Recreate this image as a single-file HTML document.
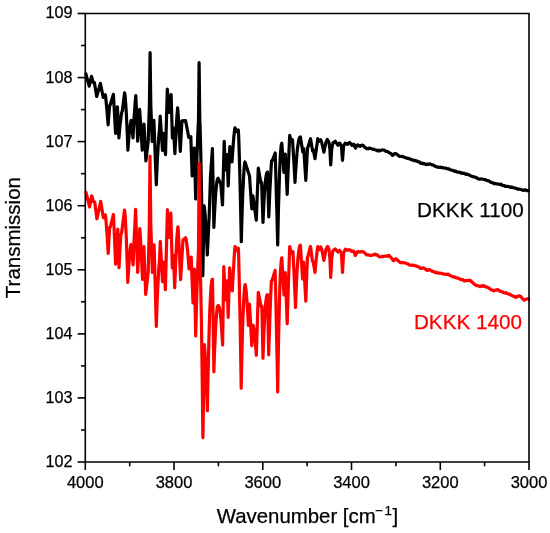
<!DOCTYPE html>
<html><head><meta charset="utf-8"><title>FTIR</title>
<style>html,body{margin:0;padding:0;background:#fff}svg{display:block}</style></head>
<body>
<svg width="550" height="533" viewBox="0 0 550 533">
<rect width="550" height="533" fill="#fff"/>
<path d="M85.9 74.0 L87.5 80.0 L89.2 86.2 L91.5 76.3 L93.2 82.5 L94.4 82.6 L96.7 96.5 L100.4 83.4 L103.2 97.4 L105.3 94.8 L105.6 96.8 L105.9 99.5 L106.2 102.5 L106.5 105.8 L106.9 109.3 L107.2 113.0 L107.5 116.8 L107.8 120.7 L108.1 124.8 L109.6 105.5 L110.2 105.0 L113.4 94.3 L115.6 133.3 L117.4 106.9 L118.9 137.8 L119.2 134.4 L119.5 131.0 L119.8 127.8 L120.1 124.7 L120.5 121.8 L120.8 119.0 L121.1 116.4 L121.4 114.2 L121.7 112.5 L122.3 111.0 L124.6 92.8 L124.9 94.2 L125.2 97.0 L125.5 100.6 L125.8 104.9 L126.1 109.9 L126.4 115.4 L126.7 121.4 L127.0 128.0 L127.3 134.9 L127.6 142.3 L127.9 150.1 L128.2 145.9 L128.5 142.0 L128.8 138.3 L129.1 134.9 L129.4 131.8 L129.8 128.9 L130.1 126.4 L130.4 124.2 L130.7 122.5 L131.0 121.2 L131.3 120.5 L133.0 137.8 L133.3 132.1 L133.6 126.5 L133.9 121.1 L134.2 116.0 L134.6 111.1 L134.9 106.4 L135.2 102.1 L135.5 98.4 L135.8 95.6 L137.7 141.1 L139.6 109.3 L139.9 113.3 L140.2 118.0 L140.6 122.9 L140.9 128.1 L141.2 133.5 L141.5 138.9 L141.9 144.5 L142.2 150.2 L144.0 124.0 L145.9 160.8 L148.2 141.0 L149.4 105.0 L150.1 52.6 L150.8 105.0 L152.2 141.5 L153.9 120.3 L156.3 184.8 L156.6 177.3 L156.9 170.2 L157.2 163.5 L157.5 157.1 L157.9 151.2 L158.2 145.7 L158.5 140.8 L158.8 136.5 L159.1 133.1 L159.4 131.0 L160.2 116.0 L162.5 150.5 L163.7 133.3 L165.5 154.6 L167.3 89.2 L169.2 112.5 L171.1 94.6 L172.4 138.0 L173.5 128.0 L174.9 153.6 L175.2 146.9 L175.6 140.4 L175.9 134.1 L176.2 128.0 L176.6 122.2 L176.9 116.7 L177.3 111.7 L177.6 107.8 L177.9 111.1 L178.2 115.2 L178.5 119.8 L178.8 124.6 L179.1 129.6 L179.4 134.9 L179.7 140.3 L180.0 145.8 L180.3 151.5 L181.9 120.8 L185.6 120.7 L188.8 137.5 L190.8 136.6 L192.2 176.0 L194.3 148.0 L195.7 199.0 L196.0 188.3 L196.3 177.9 L196.6 167.8 L196.9 158.1 L197.3 148.9 L197.6 140.3 L197.9 132.3 L198.2 125.2 L198.5 120.0 L199.1 62.7 L199.8 120.0 L200.1 126.8 L200.4 137.5 L200.7 150.4 L201.0 164.9 L201.3 180.7 L201.6 197.8 L201.9 215.9 L202.2 235.0 L202.5 254.9 L202.8 275.6 L204.1 205.8 L204.4 207.4 L204.7 210.4 L205.1 214.1 L205.4 218.5 L205.7 223.5 L206.0 229.0 L206.3 234.9 L206.7 241.2 L207.0 247.9 L207.3 255.0 L209.3 213.0 L210.5 176.0 L212.4 148.6 L213.9 227.4 L214.2 219.9 L214.5 213.1 L214.9 206.9 L215.2 201.3 L215.5 196.4 L215.8 192.0 L216.2 188.3 L216.5 185.2 L216.8 182.6 L217.1 180.7 L217.5 179.3 L217.8 178.5 L218.1 178.3 L220.8 184.0 L222.5 205.0 L224.2 141.3 L225.4 170.0 L227.0 154.5 L228.2 186.0 L229.8 146.6 L232.0 162.0 L232.3 157.4 L232.6 153.1 L232.9 148.9 L233.2 144.9 L233.5 141.2 L233.8 137.7 L234.1 134.5 L234.4 131.7 L234.7 129.3 L235.0 127.8 L236.6 131.5 L238.3 130.0 L238.6 134.9 L238.9 142.6 L239.2 151.8 L239.5 162.2 L239.8 173.6 L240.1 185.8 L240.4 198.8 L240.7 212.4 L241.0 226.7 L241.3 241.6 L241.6 230.2 L241.9 219.7 L242.2 209.9 L242.5 200.9 L242.8 192.7 L243.2 185.4 L243.5 178.9 L243.8 173.4 L244.1 168.9 L244.4 165.4 L244.7 163.0 L245.0 162.0 L249.5 176.0 L251.8 209.0 L252.9 195.8 L256.3 220.2 L258.3 168.2 L261.0 183.0 L261.6 182.5 L263.0 222.5 L263.3 215.4 L263.6 208.9 L263.9 202.9 L264.2 197.6 L264.5 192.8 L264.8 188.5 L265.1 184.7 L265.4 181.5 L265.7 178.8 L266.0 176.6 L266.3 174.9 L266.6 173.6 L266.9 172.7 L267.2 172.2 L267.5 172.1 L268.8 216.8 L269.1 209.2 L269.4 201.9 L269.7 194.8 L270.0 187.9 L270.4 181.4 L270.7 175.3 L271.0 169.7 L271.3 164.7 L271.6 161.0 L272.4 160.3 L275.2 153.0 L275.5 163.2 L275.8 174.2 L276.1 185.5 L276.4 197.1 L276.8 208.9 L277.1 220.8 L277.4 232.9 L277.7 245.0 L278.0 229.9 L278.3 216.1 L278.6 203.4 L279.0 192.0 L279.3 181.7 L279.6 172.7 L279.9 164.9 L280.2 158.2 L280.5 152.8 L280.9 148.6 L281.2 145.6 L281.5 143.8 L281.8 143.2 L283.9 172.3 L285.3 154.2 L287.2 194.3 L287.5 186.5 L287.8 178.8 L288.1 171.2 L288.4 163.6 L288.8 156.2 L289.1 148.9 L289.4 141.8 L289.7 135.3 L291.2 141.0 L292.5 139.8 L292.8 144.5 L293.1 149.6 L293.4 154.8 L293.8 160.2 L294.1 165.6 L294.4 171.1 L294.7 176.7 L295.0 182.3 L295.3 176.6 L295.6 171.4 L296.0 166.6 L296.3 162.1 L296.6 158.1 L296.9 154.4 L297.2 151.1 L297.5 148.2 L297.9 145.6 L298.2 143.4 L298.5 141.6 L298.8 140.1 L299.1 138.9 L299.4 138.0 L299.8 137.4 L300.1 137.1 L300.4 137.0 L302.8 152.0 L303.8 148.8 L305.8 180.5 L307.5 148.0 L308.2 146.5 L310.5 138.7 L312.6 151.0 L313.4 150.0 L315.0 158.6 L317.8 138.7 L319.3 141.2 L320.7 139.8 L321.7 142.5 L323.9 152.1 L325.9 142.5 L327.3 139.4 L329.0 142.5 L329.9 149.3 L330.7 164.8 L331.7 149.3 L332.9 143.1 L335.2 141.2 L338.0 145.3 L339.7 143.1 L341.4 145.9 L342.5 160.3 L343.6 145.9 L345.3 143.1 L347.5 144.3 L348.5 143.2 L349.5 142.5 L350.3 143.1 L351.2 144.5 L352.0 145.3 L352.9 144.4 L353.8 144.2 L354.6 146.2 L355.5 148.1 L356.3 146.9 L357.0 145.5 L357.8 144.8 L358.9 145.6 L360.0 146.3 L360.8 145.5 L361.5 145.4 L362.3 145.0 L363.4 145.7 L364.5 147.2 L365.5 147.5 L366.5 148.6 L367.4 148.5 L368.2 148.8 L369.1 148.1 L370.0 148.4 L370.9 148.4 L371.9 148.9 L372.9 149.4 L373.8 149.2 L374.9 149.7 L375.9 150.0 L377.0 150.5 L377.8 151.0 L378.6 150.1 L379.5 150.9 L380.3 150.6 L381.3 150.2 L382.2 149.9 L383.2 150.0 L384.1 150.0 L385.0 150.6 L386.0 151.4 L386.9 151.5 L387.8 151.6 L388.7 152.4 L389.6 152.9 L390.5 153.2 L391.5 154.2 L392.5 155.4 L393.4 154.8 L394.4 153.7 L395.3 153.5 L396.2 153.7 L397.1 154.4 L398.0 155.2 L399.0 156.0 L400.0 156.5 L401.0 156.5 L402.0 156.4 L403.0 156.6 L403.9 157.1 L404.8 157.4 L405.7 157.8 L406.6 157.8 L407.6 158.4 L408.5 158.3 L409.4 158.9 L410.4 159.0 L411.3 159.7 L412.2 159.9 L413.1 160.1 L414.1 160.6 L415.0 160.4 L415.9 161.0 L416.9 160.9 L417.9 161.9 L418.8 161.8 L419.8 162.3 L420.8 163.4 L421.6 163.2 L422.5 163.2 L423.4 163.8 L424.4 163.6 L425.4 164.2 L426.3 164.6 L427.2 164.0 L428.1 164.4 L429.1 164.2 L430.0 163.8 L430.9 164.3 L431.9 165.0 L432.9 164.9 L433.8 165.5 L434.7 166.1 L435.6 166.4 L436.6 166.8 L437.5 167.2 L438.5 167.1 L439.6 167.4 L440.6 167.0 L441.7 167.7 L442.8 167.6 L443.9 168.0 L445.0 168.2 L446.0 168.0 L447.0 168.7 L448.0 168.8 L449.0 168.8 L450.0 169.7 L451.0 170.0 L452.0 170.0 L453.0 170.6 L453.9 170.8 L454.8 171.4 L455.7 171.1 L456.6 171.8 L457.5 172.2 L458.4 172.1 L459.3 172.2 L460.2 172.4 L461.2 173.2 L462.1 172.8 L463.0 173.3 L464.0 173.3 L464.9 173.7 L465.9 174.4 L466.9 173.9 L467.8 174.5 L468.8 174.8 L469.8 175.3 L470.9 176.0 L471.9 176.3 L473.0 176.8 L474.0 176.9 L475.0 177.1 L476.0 177.6 L477.0 177.9 L478.0 178.7 L479.0 179.1 L480.0 179.1 L481.0 178.9 L482.0 179.0 L483.0 179.2 L484.0 179.5 L484.9 179.5 L485.8 180.0 L486.6 180.4 L487.5 180.6 L488.4 180.8 L489.2 181.1 L490.1 181.9 L491.0 182.4 L492.0 182.5 L493.0 183.0 L494.0 183.6 L495.0 183.4 L496.0 183.8 L497.0 183.8 L498.0 184.0 L499.0 184.3 L500.0 184.3 L501.1 184.2 L502.2 185.4 L503.3 185.6 L504.4 185.7 L505.3 186.3 L506.2 186.4 L507.2 186.3 L508.1 186.6 L509.0 186.9 L510.0 186.7 L510.9 187.4 L511.9 187.1 L512.8 187.3 L513.8 187.9 L514.8 188.0 L515.9 188.3 L517.0 188.8 L518.0 189.3 L519.0 189.1 L520.1 189.3 L521.1 189.6 L522.2 189.8 L523.2 190.4 L524.1 190.2 L525.1 189.8 L526.0 190.2 L526.8 190.7 L527.7 190.7 L528.5 190.8" fill="none" stroke="#000" stroke-width="3.2" stroke-linejoin="round" stroke-linecap="round"/>
<path d="M86.0 192.4 L87.8 199.5 L89.6 207.0 L91.7 195.8 L93.4 201.5 L94.7 202.0 L96.9 218.8 L100.7 201.4 L103.4 217.7 L105.4 214.9 L105.7 217.4 L106.0 220.9 L106.3 224.8 L106.6 229.0 L107.0 233.5 L107.3 238.3 L107.6 243.2 L107.9 248.3 L108.2 253.5 L109.6 227.5 L110.3 226.8 L113.5 214.5 L115.6 264.2 L117.8 229.0 L119.0 267.7 L120.8 234.5 L121.6 233.0 L124.5 210.0 L124.8 212.1 L125.2 216.1 L125.5 221.4 L125.8 227.8 L126.2 235.0 L126.5 243.1 L126.8 251.9 L127.1 261.4 L127.5 271.6 L127.8 282.4 L128.1 276.7 L128.5 271.4 L128.8 266.4 L129.1 261.8 L129.4 257.6 L129.8 253.8 L130.1 250.5 L130.4 247.7 L130.8 245.6 L131.1 244.5 L133.1 264.9 L133.4 257.6 L133.7 250.3 L134.0 243.1 L134.3 236.0 L134.7 229.0 L135.0 222.1 L135.3 215.4 L135.6 209.3 L137.7 272.4 L139.8 228.6 L140.1 233.0 L140.5 238.5 L140.8 244.6 L141.2 251.1 L141.5 257.8 L141.8 264.9 L142.2 272.1 L142.5 279.5 L143.9 246.5 L145.7 294.5 L148.2 272.0 L149.3 225.0 L150.0 156.2 L150.8 225.0 L152.4 272.4 L154.1 244.8 L156.3 326.4 L156.6 317.5 L156.9 309.0 L157.2 300.9 L157.5 293.2 L157.9 286.1 L158.2 279.6 L158.5 273.7 L158.8 268.6 L159.1 264.5 L159.4 262.0 L160.3 241.4 L162.5 281.7 L163.7 262.0 L165.4 289.6 L167.4 209.7 L169.3 237.5 L170.8 213.1 L172.3 268.0 L173.4 255.0 L174.7 287.7 L175.0 279.4 L175.3 271.6 L175.6 264.2 L175.9 257.2 L176.2 250.8 L176.5 245.0 L176.8 239.7 L177.1 235.1 L177.4 231.3 L177.7 228.3 L178.0 226.8 L178.3 231.9 L178.7 238.0 L179.0 244.4 L179.3 251.1 L179.6 258.0 L179.9 265.1 L180.3 272.3 L180.6 279.6 L183.0 240.0 L185.6 237.8 L185.9 238.5 L186.2 239.9 L186.5 241.7 L186.8 244.0 L187.1 246.7 L187.5 249.7 L187.8 253.0 L188.1 256.6 L188.4 260.5 L188.7 264.6 L189.0 269.0 L191.2 257.0 L193.0 303.0 L194.4 269.0 L195.7 335.9 L196.0 324.2 L196.3 312.9 L196.6 302.0 L196.9 291.5 L197.3 281.5 L197.6 272.0 L197.9 263.3 L198.2 255.7 L198.5 250.0 L199.1 163.2 L199.8 250.0 L200.1 257.2 L200.4 269.2 L200.7 284.1 L201.0 301.3 L201.4 320.3 L201.7 341.0 L202.0 363.2 L202.3 386.8 L202.6 411.6 L202.9 437.6 L204.4 344.6 L204.7 347.5 L205.0 352.0 L205.3 357.5 L205.6 363.6 L205.9 370.4 L206.2 377.6 L206.5 385.3 L206.8 393.4 L207.1 401.8 L207.4 410.6 L207.7 393.2 L208.0 377.1 L208.4 362.4 L208.7 348.9 L209.0 336.8 L209.3 325.9 L209.6 316.2 L209.9 307.7 L210.3 300.4 L210.6 294.3 L210.9 289.3 L211.2 285.3 L211.5 282.4 L211.9 280.5 L212.2 279.4 L212.5 279.1 L213.9 371.8 L214.2 361.7 L214.5 352.5 L214.9 344.1 L215.2 336.6 L215.5 329.9 L215.8 324.0 L216.2 319.0 L216.5 314.8 L216.8 311.3 L217.1 308.7 L217.5 306.9 L217.8 305.8 L218.1 305.5 L218.4 305.6 L218.7 306.0 L219.0 306.6 L219.3 307.7 L219.6 309.0 L219.9 310.8 L220.2 312.9 L220.5 315.4 L220.8 318.3 L221.1 321.7 L221.4 325.5 L221.7 329.7 L222.0 334.3 L222.3 339.4 L222.6 345.0 L223.8 266.7 L225.4 300.0 L227.0 280.8 L228.2 317.3 L229.6 267.9 L232.3 291.0 L232.6 284.5 L233.0 278.2 L233.3 272.1 L233.7 266.2 L234.0 260.5 L234.3 255.2 L234.7 250.3 L235.0 246.5 L236.7 250.5 L238.4 248.2 L238.7 257.4 L239.0 269.9 L239.3 284.1 L239.6 299.4 L240.0 315.8 L240.3 332.9 L240.6 350.7 L240.9 369.1 L241.2 388.1 L241.5 373.2 L241.8 359.4 L242.1 346.8 L242.4 335.3 L242.7 324.9 L243.0 315.7 L243.4 307.6 L243.7 300.8 L244.0 295.1 L244.3 290.6 L244.6 287.3 L244.9 285.3 L245.2 284.6 L245.5 286.0 L245.8 288.4 L246.2 291.5 L246.5 295.2 L246.8 299.3 L247.1 303.9 L247.4 308.8 L247.8 314.0 L248.1 319.6 L248.4 325.5 L249.5 304.2 L251.8 345.7 L252.9 325.0 L253.2 325.7 L253.5 327.0 L253.8 328.8 L254.1 331.1 L254.4 333.6 L254.8 336.5 L255.1 339.8 L255.4 343.2 L255.7 347.0 L256.0 351.0 L256.3 355.3 L258.3 292.4 L261.2 307.0 L261.9 306.4 L263.0 358.1 L263.3 349.2 L263.6 340.9 L263.9 333.5 L264.2 326.7 L264.5 320.6 L264.8 315.2 L265.1 310.5 L265.4 306.5 L265.7 303.1 L266.0 300.3 L266.3 298.1 L266.6 296.4 L266.9 295.4 L267.2 294.8 L267.5 294.6 L268.7 354.8 L269.0 344.0 L269.4 333.6 L269.7 323.4 L270.0 313.6 L270.4 304.2 L270.7 295.4 L271.1 287.4 L271.4 281.0 L272.2 280.0 L275.1 270.4 L275.4 282.2 L275.8 296.1 L276.1 310.9 L276.4 326.3 L276.7 342.2 L277.1 358.4 L277.4 375.0 L277.7 391.9 L278.0 372.0 L278.3 353.8 L278.6 337.1 L279.0 322.0 L279.3 308.5 L279.6 296.6 L279.9 286.3 L280.2 277.6 L280.5 270.5 L280.9 264.9 L281.2 261.0 L281.5 258.6 L281.8 257.8 L284.0 295.0 L285.3 272.7 L287.2 323.8 L287.5 313.6 L287.8 303.5 L288.1 293.5 L288.4 283.6 L288.8 273.8 L289.1 264.3 L289.4 255.0 L289.7 246.5 L291.3 253.0 L292.9 251.6 L293.2 257.0 L293.5 263.4 L293.9 270.2 L294.2 277.3 L294.5 284.6 L294.9 292.1 L295.2 299.7 L295.5 307.5 L295.8 299.3 L296.1 291.6 L296.4 284.7 L296.7 278.3 L297.0 272.5 L297.3 267.4 L297.6 262.8 L297.9 258.8 L298.3 255.3 L298.6 252.4 L298.9 250.0 L299.2 248.2 L299.5 246.8 L299.8 245.8 L300.1 245.3 L300.4 245.2 L302.6 279.0 L303.6 262.0 L305.8 301.2 L307.4 257.5 L308.1 256.0 L310.5 246.5 L312.4 261.0 L313.2 262.0 L315.0 272.4 L315.3 268.9 L315.6 265.5 L315.9 262.2 L316.2 259.0 L316.6 256.0 L316.9 253.1 L317.2 250.5 L317.5 248.2 L317.8 246.5 L319.3 249.5 L320.7 247.0 L321.8 249.5 L323.9 260.5 L325.9 249.5 L327.6 246.3 L329.0 249.5 L329.9 258.5 L330.7 277.5 L331.7 258.5 L332.9 250.8 L335.2 248.9 L338.0 252.0 L339.7 250.3 L341.4 253.2 L342.5 272.5 L343.6 253.2 L345.3 249.2 L347.3 250.3 L348.4 249.9 L349.5 249.8 L350.3 250.1 L351.2 251.1 L352.0 251.5 L352.9 251.0 L353.8 251.3 L354.6 253.4 L355.3 255.5 L356.1 254.0 L357.0 252.4 L357.8 251.5 L358.9 251.9 L360.0 252.2 L360.8 251.6 L361.6 251.7 L362.4 251.5 L363.2 251.7 L364.0 252.3 L364.8 253.2 L365.6 253.7 L366.4 254.7 L367.2 255.0 L368.1 254.8 L369.1 255.1 L370.0 255.5 L371.0 255.4 L372.0 255.4 L373.0 254.8 L373.9 254.7 L374.7 254.3 L375.6 254.2 L376.5 255.2 L377.4 254.9 L378.3 255.8 L379.3 256.7 L380.3 257.0 L381.4 256.7 L382.4 256.4 L383.5 256.6 L384.5 256.1 L385.5 256.2 L386.5 256.2 L387.4 256.3 L388.3 255.4 L389.2 255.5 L390.0 256.5 L390.7 257.4 L391.5 258.2 L392.5 259.3 L393.5 260.7 L394.6 259.8 L395.7 258.8 L396.5 259.1 L397.2 259.7 L398.0 260.8 L399.0 261.3 L400.0 262.4 L401.0 262.6 L402.0 262.5 L403.0 262.6 L403.9 262.6 L404.8 263.0 L405.7 263.1 L406.6 263.5 L407.6 263.8 L408.5 264.4 L409.4 265.0 L410.4 265.2 L411.3 265.3 L412.2 265.1 L413.1 265.4 L414.0 265.4 L415.0 265.6 L416.0 266.1 L417.0 266.0 L417.8 266.7 L418.7 266.8 L419.5 267.5 L420.6 268.4 L421.6 268.5 L422.6 267.8 L423.5 267.8 L424.4 268.4 L425.4 269.3 L426.3 269.4 L427.2 270.4 L428.1 270.2 L429.1 269.6 L430.0 269.8 L430.9 270.5 L431.9 271.1 L432.9 271.4 L433.8 271.9 L434.8 272.5 L435.7 272.2 L436.7 272.8 L437.6 272.9 L438.6 273.1 L439.6 273.2 L440.6 273.2 L441.7 273.4 L442.8 273.9 L443.9 274.2 L445.0 274.0 L446.0 274.2 L447.0 274.5 L448.0 274.2 L449.0 274.8 L450.0 275.4 L451.0 275.8 L452.0 276.6 L453.0 276.6 L453.9 277.2 L454.8 277.0 L455.7 277.5 L456.6 278.0 L457.5 278.2 L458.4 278.1 L459.2 278.9 L460.1 279.0 L461.0 279.6 L462.0 279.6 L463.0 279.9 L464.0 280.9 L465.0 281.0 L465.9 280.5 L466.9 280.5 L467.8 280.4 L468.8 280.7 L469.7 280.2 L470.6 280.6 L471.6 281.8 L472.5 282.6 L473.4 283.3 L474.4 284.3 L475.3 284.7 L476.2 285.4 L477.2 285.8 L478.1 285.6 L479.1 286.1 L480.0 286.6 L480.9 286.1 L481.9 286.2 L482.8 285.5 L483.7 286.3 L484.6 286.1 L485.5 286.8 L486.5 286.9 L487.5 287.3 L488.5 287.9 L489.3 288.2 L490.2 289.0 L491.0 289.6 L492.0 290.1 L493.0 290.3 L494.0 290.9 L494.9 290.1 L495.9 290.2 L496.9 289.8 L497.8 289.6 L498.9 290.3 L499.9 291.2 L501.0 291.4 L501.9 291.9 L502.7 292.1 L503.5 292.6 L504.4 292.8 L505.3 293.1 L506.1 292.7 L507.0 293.3 L508.0 293.9 L509.0 294.1 L510.0 294.1 L511.0 295.1 L512.0 295.6 L513.0 296.0 L513.9 296.3 L514.8 296.8 L515.7 297.3 L516.5 296.6 L517.2 296.8 L518.0 296.4 L518.8 295.9 L519.6 295.9 L520.4 296.2 L521.3 297.1 L522.3 298.6 L523.2 299.1 L524.1 300.2 L525.0 299.6 L526.0 299.3 L526.8 298.9 L527.7 298.9 L528.5 299.3" fill="none" stroke="#f00" stroke-width="3.2" stroke-linejoin="round" stroke-linecap="round"/>
<g stroke="#000" stroke-width="1.6" fill="none" stroke-linecap="butt">
<path d="M85.3 13.5 H529.0 V462.0 H85.3 Z"/>
<path d="M77.6 462.0 H85.3"/>
<path d="M77.6 397.9 H85.3"/>
<path d="M77.6 333.9 H85.3"/>
<path d="M77.6 269.8 H85.3"/>
<path d="M77.6 205.7 H85.3"/>
<path d="M77.6 141.6 H85.3"/>
<path d="M77.6 77.6 H85.3"/>
<path d="M77.6 13.5 H85.3"/>
<path d="M81.0 430.0 H85.3"/>
<path d="M81.0 365.9 H85.3"/>
<path d="M81.0 301.8 H85.3"/>
<path d="M81.0 237.8 H85.3"/>
<path d="M81.0 173.7 H85.3"/>
<path d="M81.0 109.6 H85.3"/>
<path d="M81.0 45.5 H85.3"/>
<path d="M85.3 462.0 V470.0"/>
<path d="M174.0 462.0 V470.0"/>
<path d="M262.8 462.0 V470.0"/>
<path d="M351.5 462.0 V470.0"/>
<path d="M440.3 462.0 V470.0"/>
<path d="M529.0 462.0 V470.0"/>
<path d="M129.7 462.0 V466.3"/>
<path d="M218.4 462.0 V466.3"/>
<path d="M307.1 462.0 V466.3"/>
<path d="M395.9 462.0 V466.3"/>
<path d="M484.6 462.0 V466.3"/>
</g>
<g font-family="'Liberation Sans', Arial, sans-serif" font-size="16.2" fill="#000" stroke="#000" stroke-width="0.25">
<text x="72.5" y="466.9" text-anchor="end">102</text>
<text x="72.5" y="402.8" text-anchor="end">103</text>
<text x="72.5" y="338.8" text-anchor="end">104</text>
<text x="72.5" y="274.7" text-anchor="end">105</text>
<text x="72.5" y="210.6" text-anchor="end">106</text>
<text x="72.5" y="146.5" text-anchor="end">107</text>
<text x="72.5" y="82.5" text-anchor="end">108</text>
<text x="72.5" y="18.4" text-anchor="end">109</text>
<text x="85.3" y="487.6" font-size="16.5" text-anchor="middle">4000</text>
<text x="174.0" y="487.6" font-size="16.5" text-anchor="middle">3800</text>
<text x="262.8" y="487.6" font-size="16.5" text-anchor="middle">3600</text>
<text x="351.5" y="487.6" font-size="16.5" text-anchor="middle">3400</text>
<text x="440.3" y="487.6" font-size="16.5" text-anchor="middle">3200</text>
<text x="529.0" y="487.6" font-size="16.5" text-anchor="middle">3000</text>
</g>
<g font-family="'Liberation Sans', Arial, sans-serif" fill="#000">
<text x="307.4" y="523.3" font-size="20.4" text-anchor="middle" stroke="#000" stroke-width="0.25">Wavenumber [cm<tspan font-size="13.4" dy="-8.6" dx="-0.6">−</tspan><tspan font-size="13.4" dx="1.6">1</tspan><tspan dy="8.6" dx="0.4">]</tspan></text>
<text transform="translate(19.8 237.6) rotate(-90)" stroke="#000" stroke-width="0.25" font-size="20.5" text-anchor="middle">Transmission</text>
<text x="523.7" y="217.2" font-size="20.7" text-anchor="end" stroke="#000" stroke-width="0.25">DKKK 1100</text>
<text x="522.0" y="329.0" font-size="20.7" text-anchor="end" fill="#f00" stroke="#f00" stroke-width="0.25">DKKK 1400</text>
</g>
</svg>
</body></html>
